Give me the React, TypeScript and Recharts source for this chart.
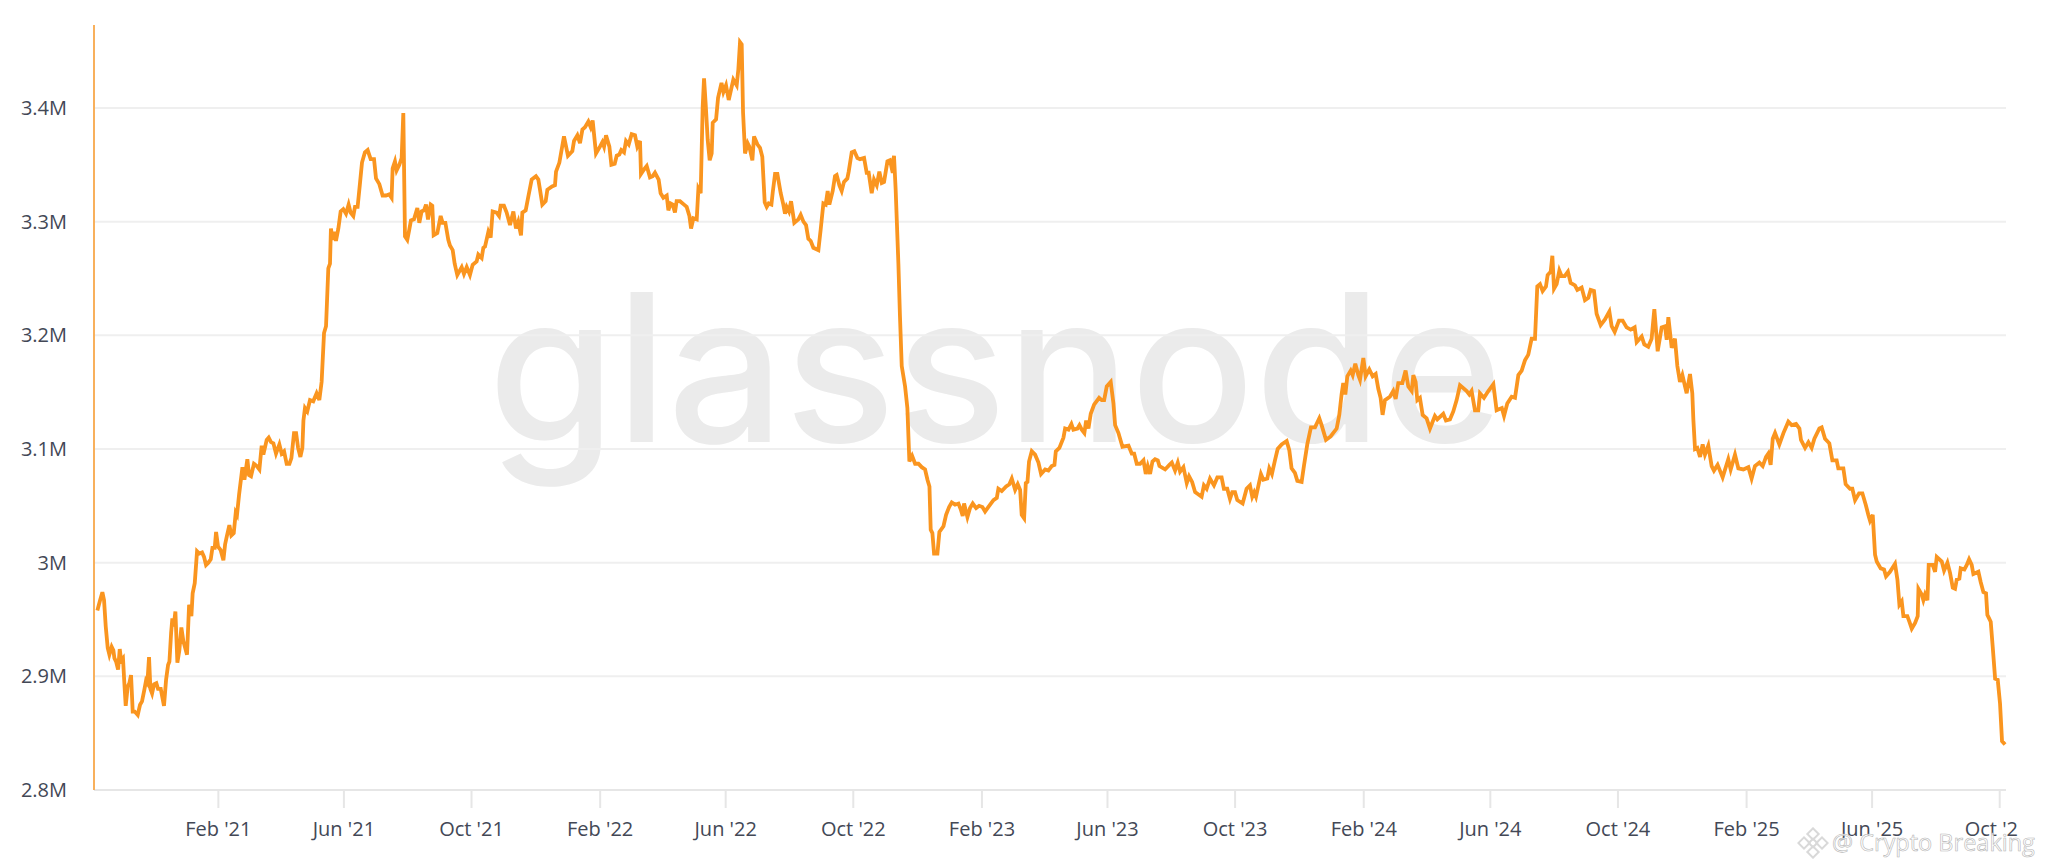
import React from 'react';
import { LineChart, Line, XAxis, YAxis, CartesianGrid } from 'recharts';

// [days since 7 Oct 2020, holdings in thousands]
const late2020: [number, number][] = [
  [1.3, 2958], [3.9, 2967], [6.1, 2974], [7.7, 2967], [9.3, 2944], [11.2, 2925], [12.8, 2919], [15, 2926], [16.6, 2923],
  [17.6, 2916], [19.2, 2913], [21.1, 2906], [22.7, 2924], [24, 2914], [25.8, 2916], [27.1, 2894], [28.4, 2874], [30.3, 2891],
  [31.9, 2894], [33.5, 2901], [35.1, 2869], [37, 2869], [39.9, 2866], [42.1, 2875], [44, 2878], [46.2, 2888], [47.8, 2896],
  [49.1, 2894], [50.7, 2917], [52, 2889], [53.6, 2885], [55.5, 2893], [57.7, 2894], [59.3, 2889], [61.9, 2889], [65, 2874],
  [67, 2897], [68.9, 2910], [70.2, 2913], [71.8, 2938], [73, 2951], [74.3, 2944], [75.9, 2957], [77.8, 2912], [79.7, 2923],
  [81.6, 2943], [83.5, 2931], [87, 2919], [89, 2963], [91.2, 2953], [92.4, 2973], [94.4, 2982], [96.6, 3010], [98.8, 3008],
  [101.4, 3009], [103.3, 3005], [105.2, 2998], [107.4, 3000], [109.7, 3003], [111.3, 3013], [113.5, 3013], [114.8, 3027],
  [116.7, 3014], [119.2, 3011], [121.8, 3002], [123.4, 3016], [125, 3023], [127.5, 3033], [129.4, 3024], [131.7, 3026],
  [133.6, 3044], [134.8, 3042], [136.8, 3060], [140, 3084], [141.9, 3073], [144.7, 3091], [146.3, 3077], [148.2, 3076],
  [151, 3087], [153.7, 3085], [156.2, 3082], [158.4, 3103], [160, 3095], [163.2, 3108], [165.1, 3110], [167.3, 3106],
  [169.6, 3105], [172.1, 3096], [175.3, 3104], [177.5, 3096], [179.8, 3098], [182.3, 3087], [184.9, 3087], [186.8, 3092],
  [189.3, 3114], [191.3, 3114], [193.2, 3101], [195.4, 3093], [197.3, 3101],
];

const rally2021: [number, number][] = [
  [198.3, 3125], [199.8, 3136], [202, 3133], [204.6, 3143], [207.7, 3142], [210.9, 3149], [213.5, 3143], [215.7, 3159],
  [218, 3202], [219.9, 3208], [222.1, 3259], [223.7, 3263], [224.6, 3294], [226.2, 3284], [227.8, 3291], [229.4, 3283],
  [231.7, 3294], [233.9, 3309], [236.4, 3311], [239, 3307], [241.5, 3315], [243.4, 3308], [246, 3305], [247.6, 3313],
  [250.1, 3313], [252.4, 3334], [254.3, 3352], [257.1, 3361], [259.7, 3363], [262.6, 3355], [265.8, 3355], [267.7, 3338],
  [270.9, 3333], [274, 3323], [277.2, 3323], [280.4, 3324], [282.6, 3321], [283.6, 3347], [285.8, 3353], [287.4, 3345],
  [290, 3350], [292.2, 3356], [293.8, 3395.5], [295.4, 3287], [297.6, 3284], [299.5, 3293], [301.1, 3301], [304, 3302],
  [307.2, 3312], [309.1, 3299], [311.3, 3309], [313.6, 3310], [315.5, 3315], [317.4, 3302], [320, 3315], [321.5, 3314],
  [322.8, 3288], [326.3, 3290], [329.5, 3305], [331.4, 3299], [334, 3299], [336.8, 3284], [338.4, 3279], [341, 3275],
  [342.9, 3263], [345.4, 3253], [349.6, 3260], [351.8, 3254], [354.4, 3260], [357.5, 3253], [360.1, 3262], [363.9, 3265],
  [365.5, 3271], [368.7, 3268], [370.3, 3277], [371.9, 3278], [375.1, 3291], [377.3, 3286], [379.2, 3309], [383, 3308],
  [385.3, 3305], [386.9, 3314], [390, 3314], [392.6, 3308], [395.8, 3297], [399, 3309], [401.5, 3294], [403.7, 3300],
  [406.3, 3288], [407.6, 3308], [410.8, 3310], [413.3, 3322], [416.5, 3337], [420.6, 3340], [422.9, 3337], [424.5, 3328],
  [426.7, 3315], [429.9, 3318], [431.5, 3328], [436, 3331], [438.8, 3332], [439.8, 3344], [443, 3352],
];

const peak2022: [number, number][] = [
  [447.4, 3375], [451.2, 3358], [455.4, 3362], [457, 3371], [460.2, 3376], [462.7, 3369], [465, 3381], [467.5, 3383],
  [470.7, 3388], [472.9, 3383], [474.8, 3389], [478, 3360], [481.8, 3366], [484.1, 3370], [485.7, 3366], [487.6, 3376],
  [490.8, 3366], [492.7, 3350], [495.9, 3351], [497.8, 3358], [500.3, 3359], [502.2, 3363], [504.8, 3361], [506.7, 3371],
  [509.3, 3368], [512.1, 3377], [515.3, 3376], [517.5, 3366], [520.1, 3371], [521, 3342], [523.9, 3346], [526.5, 3349],
  [529.6, 3339], [532.2, 3340], [534.4, 3343], [537.9, 3337], [539.8, 3325], [542.4, 3321], [545.6, 3323], [547.2, 3310],
  [549.4, 3316], [551.3, 3315], [553.5, 3308], [555.1, 3318], [558.3, 3318], [562.2, 3315], [564.7, 3313], [567.3, 3305],
  [568.9, 3294], [571.1, 3303], [574.3, 3302], [575.9, 3329], [578.1, 3325], [580, 3401], [581.3, 3426], [582.9, 3403],
  [584.8, 3372], [586.7, 3354], [588.6, 3360], [589.6, 3387], [592.8, 3390], [594.7, 3409], [598, 3422], [599.8, 3414],
  [602.3, 3420], [604.9, 3407], [609.3, 3425], [612.5, 3420], [614.1, 3434], [615.7, 3458], [617.3, 3456], [618.6, 3396],
  [620.5, 3360], [623, 3369], [624.6, 3366], [627.5, 3354], [629.1, 3375], [632.3, 3368], [634.8, 3365], [637, 3357],
  [639.3, 3317], [641.2, 3313], [643.1, 3316], [645.7, 3315], [647, 3326], [649.2, 3342], [651.4, 3342], [654.6, 3325],
  [657.1, 3315], [658.7, 3307], [660.3, 3313], [662.5, 3309], [664.5, 3318], [667.6, 3299], [671.5, 3302], [673.7, 3306],
  [676.3, 3300], [678.8, 3297], [681, 3285], [683.3, 3283], [685.8, 3277], [690.6, 3275], [692.8, 3293], [695.4, 3316],
  [697.6, 3315], [699.5, 3327], [701.1, 3315], [704.3, 3327], [706.5, 3340], [708.1, 3341], [710.7, 3332], [712.9, 3327],
  [715.1, 3335], [718.3, 3338], [719.6, 3344], [722.5, 3361], [725, 3362], [727.9, 3356], [730.4, 3355], [734.3, 3356],
  [736.8, 3343], [738.7, 3343], [741.6, 3325], [743.8, 3337], [746.4, 3332], [748.9, 3344], [751.2, 3334], [753.4, 3335],
  [756.6, 3353], [759.1, 3354], [761.7, 3343], [762.9, 3358],
];

const drop2022: [number, number][] = [
  [764.5, 3328], [767.1, 3263], [768.6, 3217], [770.3, 3173], [773.5, 3155], [775.7, 3136], [776.7, 3111], [777.6, 3089],
  [780.2, 3094], [783.1, 3087], [786.3, 3087], [789.4, 3084], [792.6, 3082], [794.9, 3073], [796.8, 3067], [798, 3029],
  [799.6, 3026], [801.2, 3008], [804.4, 3008], [806.3, 3027], [810.2, 3032], [812.7, 3042], [815.6, 3049], [818.1, 3053],
  [821.3, 3051], [824.5, 3052], [826.7, 3047], [828.6, 3041], [829.9, 3052], [833.1, 3040], [835.6, 3048], [838.2, 3052],
  [841.4, 3048], [844.3, 3050], [847.4, 3049], [850, 3045], [853.2, 3049], [858, 3055], [861.2, 3057], [862.7, 3065],
  [865.9, 3063], [870.1, 3067], [873.2, 3069], [875.5, 3074], [878.7, 3064], [881.2, 3069], [883.5, 3064], [885, 3042],
  [887.3, 3039], [888.9, 3070], [890.5, 3071], [892, 3089], [894.6, 3098], [897.8, 3095], [901, 3088], [903.5, 3078],
  [907.4, 3082], [910.5, 3081], [913.7, 3085], [916.3, 3086], [917.6, 3098], [921, 3101], [924.9, 3110], [926.5, 3118],
  [929.7, 3117], [932.5, 3122], [934.4, 3117], [938.3, 3118], [940.2, 3121], [942.4, 3117], [944.9, 3114], [946.6, 3125],
  [948.8, 3118], [951, 3131], [954.2, 3139], [959, 3145], [961.5, 3143], [963.8, 3143], [966.3, 3155], [970.1, 3159],
  [972.7, 3140], [974.3, 3121], [977.5, 3114], [981.3, 3102], [987.1, 3103], [990.2, 3096], [992.5, 3096], [995, 3087],
  [998.2, 3087], [1001.4, 3090], [1003.6, 3078], [1005.5, 3085], [1007.7, 3078], [1010, 3089], [1012.5, 3091], [1015.1, 3090],
  [1016.7, 3085], [1022.1, 3082], [1026.2, 3086], [1028.5, 3088], [1031.6, 3081], [1034.2, 3088], [1036.4, 3080],
  [1039.6, 3084], [1042.8, 3070], [1045, 3076], [1047.9, 3071], [1050.8, 3062], [1054, 3060],
];

const climb2024: [number, number][] = [
  [1057, 3058], [1059.2, 3068], [1061.8, 3065], [1065, 3074], [1068.8, 3068], [1072, 3075], [1076.1, 3075], [1078.3, 3065],
  [1081.5, 3065], [1084.1, 3056], [1086.3, 3062], [1088.9, 3062], [1091.1, 3055], [1096.2, 3052], [1100, 3065], [1103.2, 3068],
  [1105.4, 3058], [1107.3, 3062], [1109, 3058], [1113.7, 3078], [1116, 3073], [1119.8, 3074], [1121.7, 3083], [1124.2, 3078],
  [1127.1, 3090], [1129.7, 3100], [1133.5, 3104], [1138.3, 3107], [1140.8, 3099], [1143, 3083], [1146.2, 3079], [1148.5, 3072],
  [1152.6, 3071], [1154.8, 3085], [1158, 3104], [1161.5, 3119], [1165.4, 3119], [1169.5, 3127], [1171.7, 3121], [1175.9, 3108],
  [1180.3, 3111], [1186.1, 3118], [1188.6, 3130], [1190.8, 3148], [1192.4, 3158], [1194.4, 3148], [1196.3, 3164], [1199.5, 3169],
  [1201.4, 3165], [1203.9, 3175], [1206.8, 3165], [1208.4, 3161], [1211.6, 3180], [1213.8, 3164], [1217.3, 3170], [1220.5, 3164],
  [1223.4, 3166], [1225.9, 3153], [1228.1, 3145], [1230, 3130], [1232.3, 3143], [1237, 3146], [1240.2, 3151], [1242.5, 3144],
  [1245, 3158], [1248.9, 3158], [1252, 3169], [1254.6, 3155], [1257.8, 3151], [1259.4, 3165], [1261.6, 3159], [1263.2, 3143],
  [1265.7, 3145], [1268.3, 3130], [1272.1, 3127], [1275.3, 3118], [1280, 3129], [1282.3, 3126], [1288, 3131], [1290.6, 3125],
  [1294.4, 3126], [1297.6, 3133], [1300.8, 3143], [1304, 3156], [1310.4, 3151], [1312.9, 3148], [1315.1, 3151], [1318.3, 3134],
  [1321.5, 3134], [1323.1, 3149], [1326.9, 3145], [1331.1, 3151], [1335.9, 3157], [1339, 3134], [1344, 3136], [1346.1, 3129],
  [1349.2, 3140], [1353.4, 3146], [1356.6, 3145], [1359.8, 3165], [1363, 3169], [1366.1, 3178], [1369.3, 3183], [1372.5, 3197],
];

const slide2024: [number, number][] = [
  [1375.7, 3197], [1377.9, 3243], [1380.5, 3245], [1383, 3239], [1386.2, 3243], [1387.8, 3253], [1390.7, 3256], [1392.3, 3270],
  [1393.9, 3241], [1396.4, 3245], [1399, 3257], [1401.2, 3252], [1404.1, 3252], [1407.2, 3256], [1409.8, 3246], [1413.9, 3244],
  [1416.2, 3240], [1420.3, 3242], [1423.5, 3231], [1426.7, 3233], [1428.9, 3240], [1432.1, 3239], [1434.6, 3219], [1438.5, 3209],
  [1442.6, 3214], [1446.8, 3221], [1449, 3208], [1451.9, 3203], [1456, 3213], [1459.5, 3213], [1463.3, 3207], [1467.2, 3205],
  [1471, 3207], [1472.9, 3194], [1477.7, 3199], [1480.2, 3192], [1484, 3190], [1487.2, 3197], [1489.8, 3223], [1493, 3186],
  [1496.8, 3207], [1500, 3208], [1501.6, 3196], [1503.2, 3216], [1506.4, 3189], [1509.5, 3197], [1511.8, 3173], [1514.3, 3159],
  [1516.6, 3165], [1520.7, 3149], [1523.9, 3166], [1526.1, 3149], [1527.1, 3126], [1528.7, 3100], [1530.9, 3101], [1533.5, 3093],
  [1536, 3104], [1538.2, 3095], [1541.4, 3103], [1544.6, 3085], [1546.8, 3081], [1550.3, 3086], [1555.1, 3075], [1560.5, 3091],
  [1562.8, 3082], [1566.9, 3095], [1570.1, 3083], [1574.9, 3082], [1579.7, 3084], [1582.8, 3074], [1586, 3085], [1590.2, 3088],
  [1593.4, 3085], [1596.6, 3093], [1598.8, 3096], [1601, 3086],
];

const fall2025: [number, number][] = [
  [1603, 3109], [1605.2, 3114], [1609.3, 3104], [1613.2, 3114], [1617.9, 3124], [1621.1, 3121], [1625.3, 3122], [1628.5, 3118],
  [1630, 3108], [1633.9, 3101], [1637.1, 3106], [1640.2, 3101], [1642.8, 3109], [1647.6, 3118], [1649.8, 3119], [1653, 3109],
  [1657.1, 3105], [1660, 3090], [1664.1, 3090], [1665.7, 3083], [1670.5, 3083], [1672.7, 3069], [1676.9, 3065], [1679.1, 3065],
  [1681.7, 3055], [1685.5, 3061], [1688.7, 3061], [1691.9, 3051], [1694.4, 3042], [1696, 3037], [1698.6, 3042], [1700.8, 3007],
  [1702.4, 3001], [1706.2, 2995], [1709.4, 2994], [1711.3, 2988], [1715.1, 2992], [1719.9, 2999], [1722.2, 2985], [1724.1, 2963],
  [1726.3, 2966], [1727.9, 2953], [1731.7, 2953], [1733.7, 2948], [1735.9, 2942], [1739.1, 2947], [1741.6, 2953], [1742.3, 2977],
  [1745.4, 2972], [1747, 2967], [1748.6, 2972], [1750.9, 2967], [1752.1, 2998], [1755.9, 2998], [1758.2, 2992], [1759.8, 3005],
  [1764.6, 3001], [1766.8, 2993], [1770, 3000], [1772.5, 2991], [1775.1, 2978], [1777.3, 2977], [1778.9, 2985], [1781.4, 2986],
  [1782.7, 2995], [1786.2, 2994], [1788.5, 2998], [1790.7, 3003], [1793.2, 2998], [1794.8, 2990], [1799.6, 2992], [1801.8, 2983],
  [1804.4, 2974], [1806.9, 2973], [1808.2, 2954], [1811.4, 2948], [1813.3, 2926], [1815.6, 2898], [1818.1, 2897], [1820.3, 2876],
  [1822.2, 2843], [1825.1, 2840],
];

const tickDays = [117, 237, 359, 482, 602, 724, 847, 967, 1089, 1212, 1333, 1455, 1578, 1698, 1820];
const tickLabels = ["Feb '21", "Jun '21", "Oct '21", "Feb '22", "Jun '22", "Oct '22", "Feb '23", "Jun '23", "Oct '23", "Feb '24", "Jun '24", "Oct '24", "Feb '25", "Jun '25", "Oct '2"];
const yTicks = [2800, 2900, 3000, 3100, 3200, 3300, 3400];

const data = [...late2020, ...rally2021, ...peak2022, ...drop2022, ...climb2024, ...slide2024, ...fall2025].map(([day, holdings]) => ({ day, holdings }));

const FONT = '"Open Sans", sans-serif';
const TEXT = '#434856';

// the last label is cut off in the source, so it starts where the full one would
const XTick = (props: any) => {
  const { x, y, payload } = props;
  const label = tickLabels[tickDays.indexOf(payload.value)];
  const cut = label === "Oct '2";
  return (
    <text x={cut ? x - 35 : x} y={y} dy={28} textAnchor={cut ? 'start' : 'middle'} fontFamily={FONT} fontSize={20} fill={TEXT}>
      {label}
    </text>
  );
};

export default function App() {
  return (
    <div style={{ position: 'absolute', left: 0, top: 0, width: 2048, height: 868, background: '#fff', overflow: 'hidden' }}>
      <div style={{ position: 'absolute', left: 488, top: 237, fontFamily: 'Inter', fontWeight: 500, fontSize: 206, lineHeight: '260px', color: '#ebebeb' }}>
        glassnode
      </div>
      <div style={{ position: 'absolute', left: 0, top: 0 }}>
        <LineChart width={2048} height={868} data={data} margin={{ top: 25, right: 42, bottom: 0, left: 0 }}>
          <CartesianGrid horizontal vertical={false} horizontalValues={yTicks} stroke="#efefef" strokeWidth={2} />
          <XAxis
            dataKey="day"
            type="number"
            domain={[0, 1826]}
            ticks={tickDays}
            interval={0}
            padding={{ left: 2, right: 0 }}
            height={78}
            axisLine={{ stroke: '#e6e6e6', strokeWidth: 2 }}
            tickLine={{ stroke: '#e6e6e6', strokeWidth: 2 }}
            tickSize={18}
            tickMargin={0}
            tick={<XTick />}
          />
          <YAxis
            type="number"
            domain={[2800, 3473]}
            ticks={yTicks}
            width={94}
            axisLine={{ stroke: '#f8b05c', strokeWidth: 2 }}
            tickLine={false}
            tickSize={0}
            tickMargin={27}
            tick={{ fontFamily: FONT, fontSize: 20, fill: TEXT }}
            tickFormatter={(v: number) => `${v / 1000}M`}
          />
          <Line dataKey="holdings" type="linear" stroke="#fa951f" strokeWidth={3.8} dot={false} isAnimationActive={false} />
        </LineChart>
      </div>
      <svg width={32} height={32} style={{ position: 'absolute', left: 1797, top: 827 }}>
        <g fill="none" stroke="#d9d9d9" strokeWidth={2}>
          <rect x={12} y={3} width={8} height={8} transform="rotate(45 16 7)" />
          <rect x={12} y={21} width={8} height={8} transform="rotate(45 16 25)" />
          <rect x={3} y={12} width={8} height={8} transform="rotate(45 7 16)" />
          <rect x={21} y={12} width={8} height={8} transform="rotate(45 25 16)" />
          <rect x={13} y={13} width={6} height={6} transform="rotate(45 16 16)" />
        </g>
      </svg>
      <div
        style={{
          position: 'absolute',
          left: 1832,
          top: 824,
          fontFamily: FONT,
          fontSize: 23.5,
          lineHeight: '36px',
          whiteSpace: 'nowrap',
          color: 'rgba(255,255,255,0.75)',
          WebkitTextStroke: '0.6px #b5b5b5',
        }}
      >
        @ Crypto Breaking
      </div>
    </div>
  );
}
